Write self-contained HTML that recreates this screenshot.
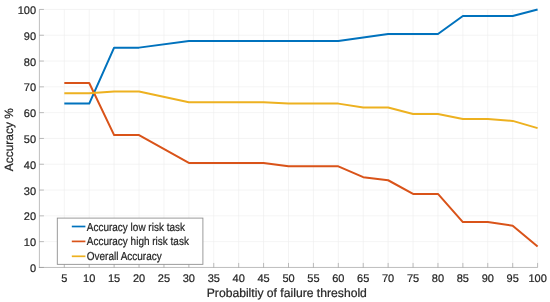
<!DOCTYPE html>
<html><head><meta charset="utf-8"><title>Accuracy vs threshold</title>
<style>html,body{margin:0;padding:0;background:#fff;}svg{display:block;}text{text-rendering:geometricPrecision;font-family:"Liberation Sans",sans-serif;fill:#262626;stroke:#262626;stroke-width:0.22px;}</style></head><body>
<svg width="550" height="302" viewBox="0 0 550 302">
<rect width="550" height="302" fill="#fff"/>
<g stroke="#ededed" stroke-width="0.6" fill="none">
<line x1="64.31" y1="9.45" x2="64.31" y2="267.45"/>
<line x1="89.22" y1="9.45" x2="89.22" y2="267.45"/>
<line x1="114.13" y1="9.45" x2="114.13" y2="267.45"/>
<line x1="139.04" y1="9.45" x2="139.04" y2="267.45"/>
<line x1="163.95" y1="9.45" x2="163.95" y2="267.45"/>
<line x1="188.86" y1="9.45" x2="188.86" y2="267.45"/>
<line x1="213.77" y1="9.45" x2="213.77" y2="267.45"/>
<line x1="238.68" y1="9.45" x2="238.68" y2="267.45"/>
<line x1="263.59" y1="9.45" x2="263.59" y2="267.45"/>
<line x1="288.50" y1="9.45" x2="288.50" y2="267.45"/>
<line x1="313.41" y1="9.45" x2="313.41" y2="267.45"/>
<line x1="338.32" y1="9.45" x2="338.32" y2="267.45"/>
<line x1="363.23" y1="9.45" x2="363.23" y2="267.45"/>
<line x1="388.14" y1="9.45" x2="388.14" y2="267.45"/>
<line x1="413.05" y1="9.45" x2="413.05" y2="267.45"/>
<line x1="437.96" y1="9.45" x2="437.96" y2="267.45"/>
<line x1="462.87" y1="9.45" x2="462.87" y2="267.45"/>
<line x1="487.78" y1="9.45" x2="487.78" y2="267.45"/>
<line x1="512.69" y1="9.45" x2="512.69" y2="267.45"/>
<line x1="537.60" y1="9.45" x2="537.60" y2="267.45"/>
<line x1="39.4" y1="241.65" x2="537.6" y2="241.65"/>
<line x1="39.4" y1="215.85" x2="537.6" y2="215.85"/>
<line x1="39.4" y1="190.05" x2="537.6" y2="190.05"/>
<line x1="39.4" y1="164.25" x2="537.6" y2="164.25"/>
<line x1="39.4" y1="138.45" x2="537.6" y2="138.45"/>
<line x1="39.4" y1="112.65" x2="537.6" y2="112.65"/>
<line x1="39.4" y1="86.85" x2="537.6" y2="86.85"/>
<line x1="39.4" y1="61.05" x2="537.6" y2="61.05"/>
<line x1="39.4" y1="35.25" x2="537.6" y2="35.25"/>
<line x1="39.4" y1="9.45" x2="537.6" y2="9.45"/>
</g>
<g stroke="#929292" stroke-width="0.6" fill="none">
<line x1="39.4" y1="9.45" x2="39.4" y2="267.95"/>
<line x1="38.9" y1="267.45" x2="537.6" y2="267.45"/>
<line x1="64.31" y1="267.45" x2="64.31" y2="262.95"/>
<line x1="89.22" y1="267.45" x2="89.22" y2="262.95"/>
<line x1="114.13" y1="267.45" x2="114.13" y2="262.95"/>
<line x1="139.04" y1="267.45" x2="139.04" y2="262.95"/>
<line x1="163.95" y1="267.45" x2="163.95" y2="262.95"/>
<line x1="188.86" y1="267.45" x2="188.86" y2="262.95"/>
<line x1="213.77" y1="267.45" x2="213.77" y2="262.95"/>
<line x1="238.68" y1="267.45" x2="238.68" y2="262.95"/>
<line x1="263.59" y1="267.45" x2="263.59" y2="262.95"/>
<line x1="288.50" y1="267.45" x2="288.50" y2="262.95"/>
<line x1="313.41" y1="267.45" x2="313.41" y2="262.95"/>
<line x1="338.32" y1="267.45" x2="338.32" y2="262.95"/>
<line x1="363.23" y1="267.45" x2="363.23" y2="262.95"/>
<line x1="388.14" y1="267.45" x2="388.14" y2="262.95"/>
<line x1="413.05" y1="267.45" x2="413.05" y2="262.95"/>
<line x1="437.96" y1="267.45" x2="437.96" y2="262.95"/>
<line x1="462.87" y1="267.45" x2="462.87" y2="262.95"/>
<line x1="487.78" y1="267.45" x2="487.78" y2="262.95"/>
<line x1="512.69" y1="267.45" x2="512.69" y2="262.95"/>
<line x1="537.60" y1="267.45" x2="537.60" y2="262.95"/>
<line x1="39.4" y1="267.45" x2="43.9" y2="267.45"/>
<line x1="39.4" y1="241.65" x2="43.9" y2="241.65"/>
<line x1="39.4" y1="215.85" x2="43.9" y2="215.85"/>
<line x1="39.4" y1="190.05" x2="43.9" y2="190.05"/>
<line x1="39.4" y1="164.25" x2="43.9" y2="164.25"/>
<line x1="39.4" y1="138.45" x2="43.9" y2="138.45"/>
<line x1="39.4" y1="112.65" x2="43.9" y2="112.65"/>
<line x1="39.4" y1="86.85" x2="43.9" y2="86.85"/>
<line x1="39.4" y1="61.05" x2="43.9" y2="61.05"/>
<line x1="39.4" y1="35.25" x2="43.9" y2="35.25"/>
<line x1="39.4" y1="9.45" x2="43.9" y2="9.45"/>
</g>
<polyline points="64.31,103.62 89.22,103.62 114.13,47.63 139.04,47.63 188.86,40.93 338.32,40.93 388.14,33.96 437.96,33.96 462.87,16.03 512.69,16.03 537.60,9.45" fill="none" stroke="#0072BD" stroke-width="2" stroke-linejoin="round"/>
<polyline points="64.31,82.98 89.22,82.98 114.13,135.10 139.04,135.10 188.86,162.96 263.59,162.96 288.50,166.31 338.32,166.31 363.23,177.15 388.14,180.25 413.05,193.92 437.96,193.92 462.87,222.04 487.78,222.04 512.69,225.65 537.60,246.55" fill="none" stroke="#D95319" stroke-width="2" stroke-linejoin="round"/>
<polyline points="64.31,93.30 89.22,93.30 114.13,91.49 139.04,91.49 188.86,102.33 263.59,102.33 288.50,103.62 338.32,103.62 363.23,107.49 388.14,107.49 413.05,113.94 437.96,113.94 462.87,119.10 487.78,119.10 512.69,120.91 537.60,128.13" fill="none" stroke="#EDB120" stroke-width="2" stroke-linejoin="round"/>
<g font-size="11" text-anchor="middle">
<text x="64.31" y="281.7">5</text>
<text x="89.22" y="281.7">10</text>
<text x="114.13" y="281.7">15</text>
<text x="139.04" y="281.7">20</text>
<text x="163.95" y="281.7">25</text>
<text x="188.86" y="281.7">30</text>
<text x="213.77" y="281.7">35</text>
<text x="238.68" y="281.7">40</text>
<text x="263.59" y="281.7">45</text>
<text x="288.50" y="281.7">50</text>
<text x="313.41" y="281.7">55</text>
<text x="338.32" y="281.7">60</text>
<text x="363.23" y="281.7">65</text>
<text x="388.14" y="281.7">70</text>
<text x="413.05" y="281.7">75</text>
<text x="437.96" y="281.7">80</text>
<text x="462.87" y="281.7">85</text>
<text x="487.78" y="281.7">90</text>
<text x="512.69" y="281.7">95</text>
<text x="537.60" y="281.7">100</text>
</g>
<g font-size="11" text-anchor="end">
<text x="36.1" y="272.00">0</text>
<text x="36.1" y="246.20">10</text>
<text x="36.1" y="220.40">20</text>
<text x="36.1" y="194.60">30</text>
<text x="36.1" y="168.80">40</text>
<text x="36.1" y="143.00">50</text>
<text x="36.1" y="117.20">60</text>
<text x="36.1" y="91.40">70</text>
<text x="36.1" y="65.60">80</text>
<text x="36.1" y="39.80">90</text>
<text x="36.1" y="14.00">100</text>
</g>
<text x="286.8" y="297.3" font-size="12.17" text-anchor="middle">Probabiltiy of failure threshold</text>
<text transform="translate(13.2,139.7) rotate(-90)" font-size="11.95" text-anchor="middle">Accuracy %</text>
<rect x="57.3" y="218.1" width="145.6" height="46.25" fill="#fff" stroke="#909090" stroke-width="0.9"/>
<line x1="71.8" y1="226.5" x2="85.4" y2="226.5" stroke="#0072BD" stroke-width="1.7"/>
<text transform="translate(86.8,230.55) scale(0.868,1)" font-size="11.5">Accuracy low risk task</text>
<line x1="71.8" y1="241.4" x2="85.4" y2="241.4" stroke="#D95319" stroke-width="1.7"/>
<text transform="translate(86.8,245.4) scale(0.868,1)" font-size="11.5">Accuracy high risk task</text>
<line x1="71.8" y1="256.3" x2="85.4" y2="256.3" stroke="#EDB120" stroke-width="1.7"/>
<text transform="translate(86.8,260.4) scale(0.868,1)" font-size="11.5">Overall Accuracy</text>
</svg></body></html>
